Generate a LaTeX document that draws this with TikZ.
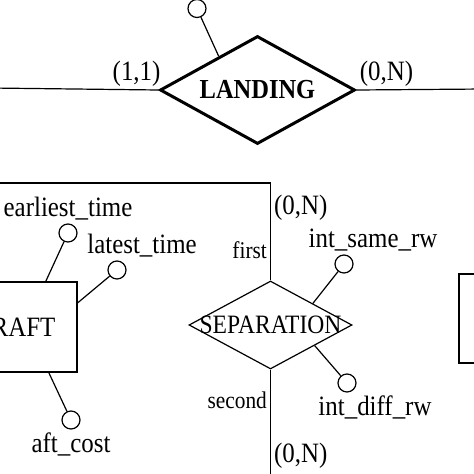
\documentclass[tikz,border=0pt]{standalone}
\usepackage{fontspec}
\setmainfont[FakeStretch=0.89]{Liberation Serif}
\usetikzlibrary{shapes}
\usetikzlibrary{positioning}

\begin{document}
\begin{tikzpicture}[x=1pt, y=-1pt, line width=1.2pt,
	  every node/.style={font=\fontsize{28}{32}\selectfont},
	  every label/.style={inner sep=3pt},
	  entity/.style={rectangle,draw,fill=white,minimum height=90pt},
	  relation/.style={diamond,draw,fill=white,inner sep=0pt,aspect=1.8},
	  attr/.style={circle,draw,fill=white,minimum size=18pt,inner sep=0pt},
	  card/.style={inner sep=3pt},
	  role/.style={font=\fontsize{24}{28}\selectfont,inner sep=3pt}]
	  \fill[white] (0,0) rectangle (474,474);
	  \useasboundingbox (0,0) rectangle (474,474);
	  \clip (0,0) rectangle (474,474);
%
	  \node[relation, line width=3pt, minimum width=195pt, minimum height=108pt,
	        font=\fontsize{27.5}{32}\selectfont\bfseries] (landing) at (257.5,90) {LANDING};
	  \node[relation, minimum width=163pt, minimum height=88pt, inner xsep=-14pt,
	        font=\fontsize{26.5}{31}\selectfont] (sep) at (270.5,325) {SEPARATION};
	  \node[entity, minimum width=107pt] (aircraft) at (23.5,327) {RAFT};
	  \node[entity, minimum width=60pt, minimum height=89pt] (runway) at (489,318.5) {};
%
	  \node[attr] (landattr) at (197,8.5) {};
	  \node[attr, label={above:earliest\_time}] (earliest) at (68,233) {};
	  \node[attr, label={[xshift=25pt]above:latest\_time}] (latest) at (117,270) {};
	  \node[attr, label={below:aft\_cost}] (aftcost) at (71,420) {};
	  \node[attr, label={[xshift=29pt]above:int\_same\_rw}] (samerw) at (344,264) {};
	  \node[attr, label={[xshift=28pt]below:int\_diff\_rw}] (diffrw) at (347,383) {};
%
	  \coordinate (westEnd) at (-10,88);
	  \coordinate (eastEnd) at (484,89);
	  \coordinate (topCorner) at (270.5,183);
	  \coordinate (topEnd) at (-10,183);
	  \coordinate (botEnd) at (270.5,484);
%
	  \path
	    (landattr) edge (landing.139)
	    (earliest) edge (aircraft.64)
	    (latest) edge (aircraft.24)
	    (aftcost) edge (aircraft.-61)
	    (samerw) edge (sep.27)
	    (diffrw) edge (sep.-25);
	  \draw (landing.west) -- node[card, pos=0.13, above] {(1,1)} (westEnd);
	  \draw (landing.east) -- node[card, pos=0.236, above] {(0,N)} (eastEnd);
	  \draw (sep.north) -- node[role, pos=0.31, left] {first}
	        node[card, pos=0.745, right] {(0,N)} (topCorner) -- (topEnd);
	  \draw (sep.south) -- node[role, pos=0.27, left] {second}
	        node[card, pos=0.75, right] {(0,N)} (botEnd);
\end{tikzpicture}
\end{document}
